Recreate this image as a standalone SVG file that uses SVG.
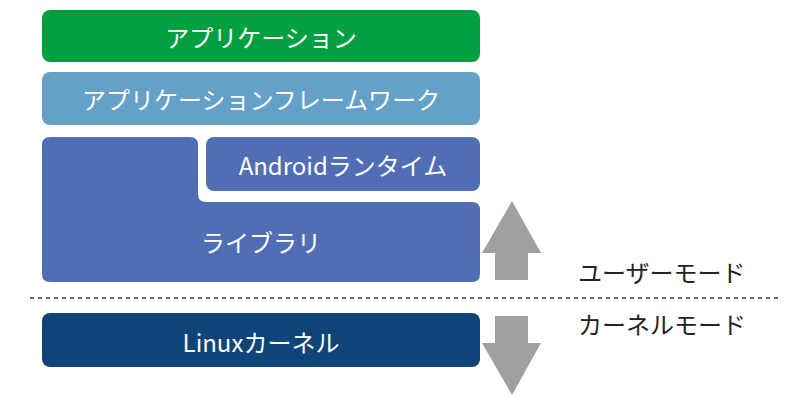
<svg xmlns="http://www.w3.org/2000/svg" width="800" height="400" viewBox="0 0 800 400">
<style>
text{font-family:"Noto Sans CJK JP","Noto Sans",sans-serif;font-size:24px;fill:#fff;text-anchor:middle;dominant-baseline:central}
.lbl{fill:#222;text-anchor:start}
.arr{fill:#a0a0a0}
</style>
<rect width="800" height="400" fill="#fff"/>
<g id="app"><rect x="42" y="10" width="438" height="52" rx="8" fill="#00a040"/><text x="261" y="36">アプリケーション</text></g>
<g id="framework"><rect x="42" y="72" width="438" height="53" rx="8" fill="#64a0c8"/><text x="261" y="98">アプリケーションフレームワーク</text></g>
<g id="library"><path d="M50 137 H190 Q198 137 198 145 V194 Q198 202 206 202 H472 Q480 202 480 210 V274 Q480 282 472 282 H50 Q42 282 42 274 V145 Q42 137 50 137 Z" fill="#4f6eb4"/><text x="261" y="241">ライブラリ</text></g>
<g id="runtime"><rect x="206" y="137" width="274" height="54" rx="8" fill="#4f6eb4"/><text x="343" y="164">Androidランタイム</text></g>
<g id="kernel"><rect x="42" y="313" width="438" height="54" rx="8" fill="#0e4478"/><text x="261" y="341">Linuxカーネル</text></g>
<g id="connectors">
<line x1="30" y1="298" x2="778" y2="298" stroke="#666" stroke-width="2" stroke-dasharray="4 4"/>
<polygon class="arr" points="512,201 541,253 528,253 528,280 495,280 495,253 482,253"/>
<polygon class="arr" points="495,316 528,316 528,343 541,343 512,395 482,343 495,343"/>
</g>
<text class="lbl" x="578" y="271">ユーザーモード</text>
<text class="lbl" x="578" y="323">カーネルモード</text>
</svg>
